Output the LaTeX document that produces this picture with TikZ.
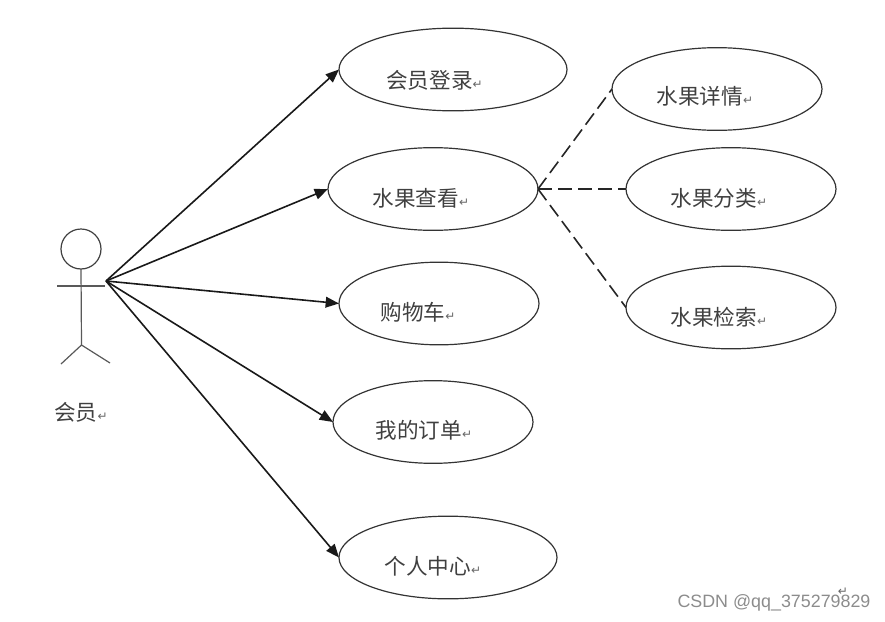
\documentclass[tikz,border=0pt]{standalone}
\usepackage{fontspec}
\setmainfont{Liberation Sans}
\newfontfamily\cjk{Noto Sans CJK SC}[Scale=1]
\newfontfamily\symfont{DejaVu Sans}
\usetikzlibrary{shapes.geometric,arrows.meta}
\newcommand{\retmark}{{\symfont\fontsize{9}{9}\selectfont\color{black!60}↵}}
\tikzset{
	usecase/.style={ellipse, draw=black!80, line width=0.9pt, inner sep=0pt, outer sep=0pt, minimum height=62pt},
	caselabel/.style={inner sep=0pt, text=black!75, font=\cjk\fontsize{16.2}{18}\selectfont},
	assoc/.style={-{Triangle[length=10pt,width=8pt]}, line width=1.2pt, black!90},
	incl/.style={dashed, dash pattern=on 10.5pt off 4.5pt, line width=1.2pt, black!85},
	limb/.style={line width=0.9pt, black!65}
}
\begin{document}
\begin{tikzpicture}[x=0.75pt, y=-0.75pt]
	\useasboundingbox (0,0) rectangle (885,621);
	
	% --- 会员 ---
	\node[circle, draw=black!75, line width=0.9pt, minimum size=30pt, inner sep=0pt, outer sep=0pt] (head) at (81,249) {};
	\coordinate (hip) at (81.5,345);
	\draw[limb] (head.south) -- (hip);
	\draw[limb] (57,286) -- (105,286);
	\draw[limb] (61,364) -- (hip) -- (110,363);
	\node[caselabel] (actorlabel) at (81,412) {会员\retmark};
	\coordinate (actor) at (106,281);
	
	% --- 左列用例 ---
	\node[usecase, minimum width=171pt] (login) at (453,69.5) {};
	\node[usecase, minimum width=157.5pt] (view) at (433,189) {};
	\node[usecase, minimum width=150pt] (cart) at (439,303.5) {};
	\node[usecase, minimum width=150pt] (order) at (433,422) {};
	\node[usecase, minimum width=163.5pt] (center) at (448,557.5) {};
	
	\node[caselabel] (logintext) at (434.5,80) {会员登录\retmark};
	\node[caselabel] (viewtext) at (421,198) {水果查看\retmark};
	\node[caselabel] (carttext) at (418,312) {购物车\retmark};
	\node[caselabel] (ordertext) at (424,430) {我的订单\retmark};
	\node[caselabel] (centertext) at (433,566) {个人中心\retmark};
	
	% --- 右列用例 ---
	\node[usecase, minimum width=157.5pt] (detail) at (717,89) {};
	\node[usecase, minimum width=157.5pt] (sort) at (731,189) {};
	\node[usecase, minimum width=157.5pt] (search) at (731,307.5) {};
	
	\node[caselabel] (detailtext) at (705,96) {水果详情\retmark};
	\node[caselabel] (sorttext) at (719,198) {水果分类\retmark};
	\node[caselabel] (searchtext) at (719,317) {水果检索\retmark};
	
	% 实线箭头
	\draw[assoc] (actor) -- (login.west);
	\draw[assoc] (actor) -- (view.west);
	\draw[assoc] (actor) -- (cart.west);
	\draw[assoc] (actor) -- (order.west);
	\draw[assoc] (actor) -- (center.west);
	
	% 虚线
	\draw[incl] (view.east) -- (detail.west);
	\draw[incl] (view.east) -- (sort.west);
	\draw[incl] (view.east) -- (search.west);
	
	% 水印
	\node[inner sep=0pt, text=black!45, font=\fontsize{13.4}{15}\selectfont] (mark) at (774,603) {CSDN @qq\_375279829};
	\node[inner sep=0pt] (markret) at (843,592) {\retmark};
\end{tikzpicture}
\end{document}
